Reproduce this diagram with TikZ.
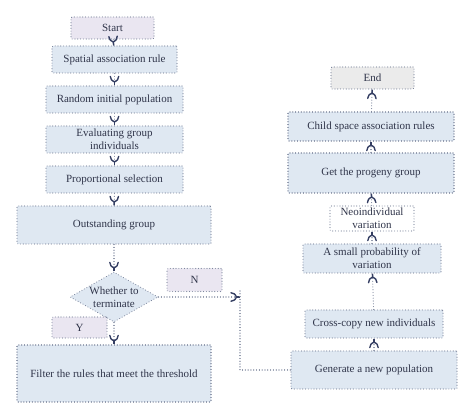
\documentclass[tikz,border=0pt]{standalone}
\usepackage{fontspec}
\setmainfont{Liberation Serif}
\usetikzlibrary{shapes.geometric,decorations.markings}
\definecolor{boxfill}{HTML}{DFE8F2}
\definecolor{lavfill}{HTML}{EAE6F1}
\definecolor{grayfill}{HTML}{EBEBEB}
\definecolor{dotc}{HTML}{7F889E}
\definecolor{arrc}{HTML}{343E62}
\definecolor{textc}{HTML}{30354A}
\begin{document}
\begin{tikzpicture}[x=1pt,y=-1pt,
  font=\fontsize{11}{13}\selectfont, text=textc,
  dotline/.style={draw=dotc, line width=1.15pt, dash pattern=on 0.01pt off 2.8pt, line cap=round},
  box/.style={dotline, fill=boxfill, rectangle, rounded corners=1pt, inner sep=0.5pt, align=center},
  lbox/.style={box, fill=lavfill},
  gbox/.style={box, fill=grayfill},
  yarrow/.style={dotline, postaction={decorate, decoration={markings, mark=at position 1 with {
     \draw[solid, line width=1.5pt, arrc, line cap=butt] (0,0) -- (-3.5pt,0);
     \draw[solid, line width=1.4pt, arrc, line cap=round] (-9pt,4.2pt) .. controls (-5.5pt,3.4pt) .. (-3.5pt,0) .. controls (-5.5pt,-3.4pt) .. (-9pt,-4.2pt);
  }}}}
]
\useasboundingbox (0,0) rectangle (474,419);
% left column
\node[lbox, minimum width=83pt, minimum height=22pt] (start) at (112.5,28) {Start};
\node[box, minimum width=125pt, minimum height=27pt] (spatial) at (114.5,59.5) {Spatial association rule};
\node[box, minimum width=137pt, minimum height=27pt] (random) at (114.5,99.5) {Random initial population};
\node[box, minimum width=137pt, minimum height=27pt] (eval) at (114.5,139.5) {Evaluating group\\individuals};
\node[box, minimum width=137pt, minimum height=27pt] (prop) at (114.5,179.5) {Proportional selection};
\node[box, minimum width=194pt, minimum height=38pt] (outst) at (114,225) {Outstanding group};
\node[dotline, fill=boxfill, diamond, aspect=1.76, minimum width=88pt, minimum height=50pt, inner sep=0pt, align=center] (term) at (114,297) {Whether to\\terminate};
\node[lbox, minimum width=55pt, minimum height=21pt] (ylab) at (79.5,327.5) {Y};
\node[lbox, minimum width=55pt, minimum height=23pt] (nlab) at (194.5,280) {N};
\node[box, minimum width=194pt, minimum height=57pt] (filter) at (114,373.5) {Filter the rules that meet the threshold};
% right column
\node[gbox, minimum width=83pt, minimum height=22pt] (end) at (372.5,78) {End};
\node[box, minimum width=166pt, minimum height=29pt] (child) at (371,126.5) {Child space association rules};
\node[box, minimum width=166pt, minimum height=40pt] (prog) at (371,173) {Get the progeny group};
\node[box, fill=white, minimum width=84pt, minimum height=25pt] (neo) at (372,218.5) {Neoindividual\\variation};
\node[box, minimum width=138pt, minimum height=29pt] (small) at (372,258.5) {A small probability of\\variation};
\node[box, minimum width=138pt, minimum height=28pt] (cross) at (374,324) {Cross-copy new individuals};
\node[box, minimum width=166pt, minimum height=38pt] (gen) at (374,370) {Generate a new population};
\coordinate (turn) at (240,297);
% connectors
\draw[yarrow] (start) -- (spatial);
\draw[yarrow] (spatial) -- (random);
\draw[yarrow] (random) -- (eval);
\draw[yarrow] (eval) -- (prop);
\draw[yarrow] (prop) -- (outst);
\draw[yarrow] (outst) -- (term);
\draw[yarrow] (term) -- (filter);
\draw[yarrow] (term.east) -- (turn);
\draw[dotline] ([yshift=6pt]turn) |- (gen.west);
\draw[yarrow] (gen) -- (cross);
\draw[yarrow] (cross) -- (small);
\draw[yarrow] (small) -- (neo);
\draw[yarrow] (neo) -- (prog);
\draw[yarrow] (prog) -- (child);
\draw[yarrow] (child) -- (end);
\end{tikzpicture}
\end{document}
